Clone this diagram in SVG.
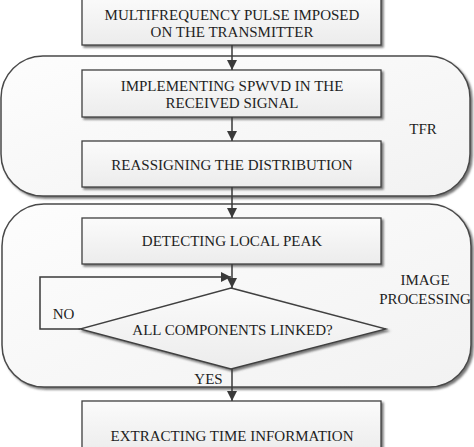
<svg xmlns="http://www.w3.org/2000/svg" width="474" height="447" viewBox="0 0 474 447">
<defs>
<linearGradient id="gBox" x1="0" y1="0" x2="0" y2="1">
<stop offset="0" stop-color="#fbfbfb"/>
<stop offset="1" stop-color="#ececec"/>
</linearGradient>
<linearGradient id="gCont" x1="0" y1="0" x2="1" y2="1">
<stop offset="0" stop-color="#fdfdfd"/>
<stop offset="1" stop-color="#f2f2f2"/>
</linearGradient>
<filter id="sh" x="-5%" y="-5%" width="110%" height="115%">
<feDropShadow dx="2" dy="2" stdDeviation="0.8" flood-color="#555" flood-opacity="0.8"/>
</filter>
<marker id="ah" viewBox="0 0 10 10" refX="10" refY="5" markerWidth="10" markerHeight="10" markerUnits="userSpaceOnUse" orient="auto">
<path d="M0,0 L10,5 L0,10 Z" fill="#3a3a3a"/>
</marker>
<style>
.cont{fill:url(#gCont);stroke:#4a4a4a;stroke-width:1.5;filter:url(#sh)}
.box{fill:url(#gBox);stroke:#404040;stroke-width:1.3;filter:url(#sh)}
.t{font-family:"Liberation Serif","Times New Roman",serif;font-size:15px;fill:#1e1e1e;text-anchor:middle}
.c{fill:none;stroke:#3a3a3a;stroke-width:1.5}
</style>
</defs>
<g id="group-tfr">
<rect class="cont" x="1" y="56" width="469" height="140" rx="42" ry="42"/>
<text class="t" x="423" y="134">TFR</text>
</g>
<g id="group-image-processing">
<rect class="cont" x="2" y="204" width="469" height="183" rx="42" ry="42"/>
<text class="t" x="425" y="285">IMAGE</text>
<text class="t" x="425" y="304">PROCESSING</text>
</g>
<g id="node-pulse">
<rect class="box" x="82" y="-5" width="299" height="50"/>
<text class="t" x="232" y="19.5">MULTIFREQUENCY PULSE IMPOSED</text>
<text class="t" x="232" y="37">ON THE TRANSMITTER</text>
</g>
<g id="node-spwvd">
<rect class="box" x="82" y="70" width="299" height="47"/>
<text class="t" x="232" y="90.5">IMPLEMENTING SPWVD IN THE</text>
<text class="t" x="232" y="107.5">RECEIVED SIGNAL</text>
</g>
<g id="node-reassign">
<rect class="box" x="82" y="141" width="299" height="46"/>
<text class="t" x="232" y="170">REASSIGNING THE DISTRIBUTION</text>
</g>
<g id="node-detect">
<rect class="box" x="82" y="218" width="299" height="46"/>
<text class="t" x="232" y="245.7">DETECTING LOCAL PEAK</text>
</g>
<g id="node-decision">
<polygon class="box" points="231,288 386,329 231,369 80,329"/>
<text class="t" x="232.5" y="335">ALL COMPONENTS LINKED?</text>
</g>
<g id="node-extract">
<rect class="box" x="82" y="401" width="299" height="52"/>
<text class="t" x="232" y="440.5">EXTRACTING TIME INFORMATION</text>
</g>
<g id="connectors">
<line class="c" x1="232" y1="45" x2="232" y2="70" marker-end="url(#ah)"/>
<line class="c" x1="232" y1="117" x2="232" y2="141" marker-end="url(#ah)"/>
<line class="c" x1="232" y1="187" x2="232" y2="218" marker-end="url(#ah)"/>
<line class="c" x1="232" y1="264" x2="232" y2="288" marker-end="url(#ah)"/>
<line class="c" x1="232" y1="369" x2="232" y2="401" marker-end="url(#ah)"/>
<polyline class="c" points="80,329 40,329 40,277 231,277" marker-end="url(#ah)"/>
<text class="t" x="63.5" y="318.5">NO</text>
<text class="t" x="208.5" y="384">YES</text>
</g>
</svg>
